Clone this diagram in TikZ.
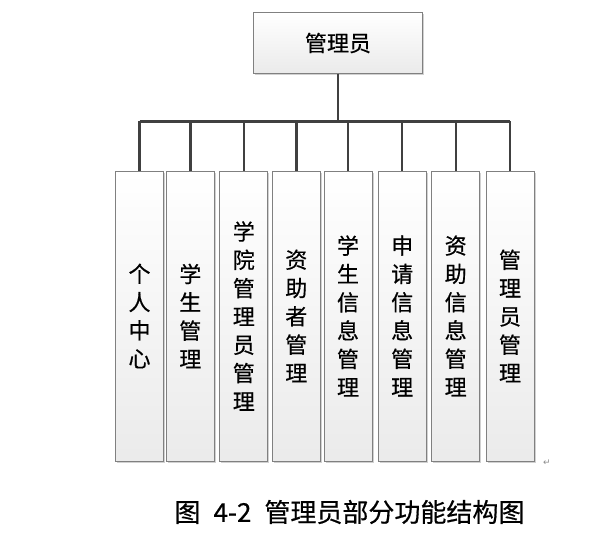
\documentclass[tikz,border=0pt]{standalone}
\usepackage{fontspec}
\newfontfamily\cjk[FakeBold=0.5]{Noto Sans CJK SC}
\newfontfamily\symfont{DejaVu Sans}
\usetikzlibrary{%
	calc,%
	shadows
}

\tikzset{
	unitbox/.style={draw=black!50, line width=0.8pt, top color=white, bottom color=black!8,
		drop shadow={shadow xshift=1.5pt, shadow yshift=-1.5pt, fill=black!30, opacity=0.6},
		inner sep=0pt, align=center},
	link/.style={draw=black!75, line width=2.4pt}
}

\begin{document}
\begin{tikzpicture}[x=1pt,y=-1pt]
		\useasboundingbox (0,0) rectangle (597,533);

		% Root
		\node[unitbox, minimum width=169pt, minimum height=61pt, font=\cjk\fontsize{22}{26}\selectfont] (admin) at (338,43) {管理员};

		% Modules
		\foreach \x/\name/\txt in {139.5/center/{个\\人\\中\\心},
			190.3/student/{学\\生\\管\\理},
			243.8/college/{学\\院\\管\\理\\员\\管\\理},
			296.3/sponsor/{资\\助\\者\\管\\理},
			348/stuinfo/{学\\生\\信\\息\\管\\理},
			402.2/apply/{申\\请\\信\\息\\管\\理},
			455.7/aidinfo/{资\\助\\信\\息\\管\\理},
			510/adminmgr/{管\\理\\员\\管\\理}}
		\node[unitbox, minimum width=48pt, minimum height=290pt, font=\cjk\fontsize{22}{28.3}\selectfont] (\name) at (\x,316) {\txt};

		% Connectors
		\coordinate (bus) at ($(admin.south)+(0,47.4)$);
		\draw[link] (admin.south) -- (bus);
		\draw[link] (bus -| center.north) -- (bus -| adminmgr.north);
		\foreach \name in {center,student,college,sponsor,stuinfo,apply,aidinfo,adminmgr}
		\draw[link] (bus -| \name.north) -- (\name.north);

		% Caption
		\node[font=\cjk\fontsize{26}{30}\selectfont] (caption) at (349.5,512) {图\hspace{0.5em}4-2\hspace{0.5em}管理员部分功能结构图};
		\node[font=\symfont\fontsize{9}{10}\selectfont, text=black!45, inner sep=0pt] (mark) at (547,463) {↵};
	\end{tikzpicture}
\end{document}
